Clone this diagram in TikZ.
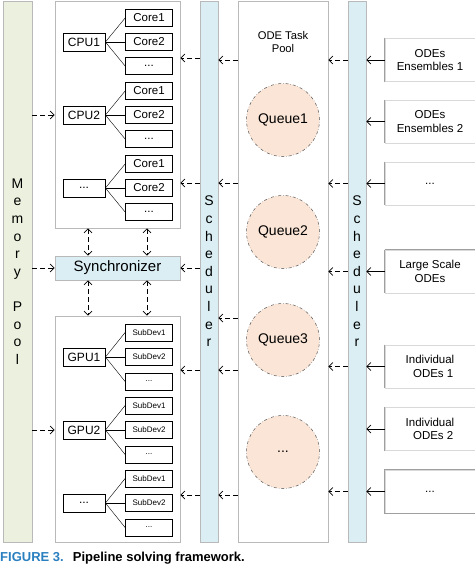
\documentclass[tikz,border=0pt]{standalone}
\usepackage{fontspec}
\setmainfont{Liberation Sans}
\usetikzlibrary{arrows.meta}
\usetikzlibrary{positioning}

\definecolor{poolgreen}{HTML}{EBF1DE}
\definecolor{schedblue}{HTML}{DAEEF3}
\definecolor{queuepeach}{HTML}{FBE5D6}
\definecolor{figblue}{HTML}{2A7FC0}

\def\etc{...}

\tikzset{
  frame/.style={draw=gray!55, line width=0.9pt, fill=white, inner sep=0pt},
  bar/.style={draw=gray!55, line width=0.8pt, fill=schedblue, minimum width=18pt, minimum height=541pt, inner sep=0pt},
  unit/.style={draw, line width=0.8pt, minimum width=42pt, minimum height=18pt, inner sep=0pt, font=\fontsize{12}{12}\selectfont},
  core/.style={draw, line width=0.8pt, minimum width=47pt, minimum height=17pt, inner sep=0pt, font=\fontsize{11.5}{12}\selectfont},
  subdev/.style={core, font=\fontsize{8}{9}\selectfont},
  queue/.style={circle, draw=gray!70!black, dash dot, line width=0.5pt, fill=queuepeach, minimum size=73pt, inner sep=0pt, font=\fontsize{14}{14}\selectfont},
  inbox/.style={draw=gray!30, line width=0.6pt, minimum width=90pt, minimum height=43pt, inner sep=0pt, align=center, font=\fontsize{11.5}{13.5}\selectfont},
  barb/.tip={Straight Barb[length=4pt,width=8pt]},
  tip/.style={-barb},
  dar/.style={tip, dash pattern=on 4.5pt off 3.5pt, line width=0.7pt},
  sar/.style={tip, line width=0.7pt},
  vtext/.style={align=center, font=\fontsize{14}{17.6}\selectfont}
}

\begin{document}
\begin{tikzpicture}[x=1pt, y=-1pt]
\useasboundingbox (0,0) rectangle (474,575);

% memory pool and schedulers
\node[bar, fill=poolgreen, minimum width=29pt] (mem) at (17.5,271.5) {};
\node[vtext] (memtxt) at (mem) {M\\e\\m\\o\\r\\y\\[17.6pt]P\\o\\o\\l};
\node[bar] (sch1) at (209,271.5) {};
\node[vtext] (sch1txt) at (sch1) {S\\c\\h\\e\\d\\u\\l\\e\\r};
\node[bar] (sch2) at (357,271.5) {};
\node[vtext] (sch2txt) at (sch2) {S\\c\\h\\e\\d\\u\\l\\e\\r};

% devices
\node[frame, minimum width=125pt, minimum height=227pt] (cpu) at (117.5,114.5) {};
\node[frame, fill=schedblue, minimum width=125pt, minimum height=24pt, font=\fontsize{15}{15}\selectfont] (sync) at (117.5,268) {Synchronizer};
\node[frame, minimum width=125pt, minimum height=226pt] (gpu) at (117.5,429) {};

\foreach \g/\name/\yy in {1/CPU1/42,2/CPU2/115,3/\etc/188}{
  \node[unit] (cpu\g) at (84,\yy) {\name};
  \foreach \c/\cname/\dy in {1/Core1/-24,2/Core2/0,3/\etc/24}{
    \node[core] (core\g\c) at (149,\yy+\dy) {\cname};
    \draw (cpu\g.east) -- (core\g\c.west);
  }
}
\foreach \g/\name/\yy in {1/GPU1/357,2/GPU2/430,3/\etc/503}{
  \node[unit] (gpu\g) at (84,\yy) {\name};
  \foreach \c/\cname/\dy in {1/SubDev1/-24.5,2/SubDev2/0,3/\etc/24.5}{
    \node[subdev] (sub\g\c) at (149,\yy+\dy) {\cname};
    \draw (gpu\g.east) -- (sub\g\c.west);
  }
}

% task pool
\node[frame, minimum width=90pt, minimum height=541pt] (pool) at (283,271.5) {};
\node[align=center, font=\fontsize{11.2}{13.5}\selectfont] (pooltxt) at (283,42) {ODE Task\\Pool};
\node[queue] (q1) at (283,120) {Queue1};
\node[queue] (q2) at (283,232) {Queue2};
\node[queue] (q3) at (283,340) {Queue3};
\node[queue] (q4) at (283,452) {\etc};

% inputs
\foreach \i/\txt/\yy in {1/{ODEs\\Ensembles 1}/60,2/{ODEs\\Ensembles 2}/121.5,3/\etc/183.5,
  4/{Large Scale\\ODEs}/271.5,5/{Individual\\\ \ ODEs 1}/366.5,6/{Individual\\\ \ ODEs 2}/429,7/\etc/491.5}{
  \node[inbox] (in\i) at (430,\yy) {\txt};
  \draw[gray!75, line width=0.6pt] (in\i.north west) -- (in\i.south west);
}
\draw[gray!75, line width=0.6pt] (in4.north west) -- (in4.north east);
\draw[gray!75, line width=0.6pt] (in7.north east) -- (in7.north west) -- (in7.south west) -- (in7.south east);

% arrows
\foreach \i in {1,...,7} \draw[sar] (in\i.west) -- (sch2.east |- in\i.west);
\foreach \i in {1,3,4,5,7} \draw[dar] (sch2.west |- in\i.west) -- (pool.east |- in\i.west);
\foreach \yy in {60,183,318,370,495} \draw[dar] (pool.west |- 0,\yy) -- (sch1.east |- 0,\yy);
\foreach \yy/\dst in {58/cpu,183/cpu,268/sync,370/gpu,495/gpu} \draw[dar] (sch1.west |- 0,\yy) -- (\dst.east |- 0,\yy);
\foreach \yy/\dst in {115/cpu,268/sync,430/gpu} \draw[dar] (mem.east |- 0,\yy) -- (\dst.west |- 0,\yy);
\foreach \xx in {88,147}{
  \draw[dar, barb-barb] (cpu.south -| \xx,0) -- (sync.north -| \xx,0);
  \draw[dar, barb-barb] (sync.south -| \xx,0) -- (gpu.north -| \xx,0);
}

% caption
\node[anchor=west, inner sep=0pt, font=\bfseries\fontsize{13}{13}\selectfont] (cap) at (0,558) {\textcolor{figblue}{FIGURE 3.}\hspace{0.7em}Pipeline solving framework.};
\end{tikzpicture}
\end{document}
